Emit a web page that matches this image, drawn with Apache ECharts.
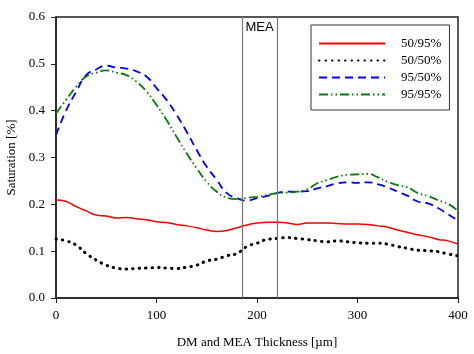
<!DOCTYPE html>
<html>
<head>
<meta charset="utf-8">
<script src="https://cdn.jsdelivr.net/npm/echarts@6/dist/echarts.min.js"></script>
<style>
  html, body { margin: 0; padding: 0; background: #fff; }
  #chart { width: 474px; height: 354px; }
</style>
</head>
<body>
<div id="chart"></div>
<script>
// thickness positions, um
var thickness = [0, 10, 20, 30, 40, 50, 60, 70, 80, 90, 100, 110, 120, 130, 140, 150, 160, 170, 180, 190,
  200, 210, 220, 230, 240, 250, 260, 270, 280, 290, 300, 310, 320, 330, 340, 350, 360, 370, 380, 390, 400];

// saturation values
var sat5095 = [0.209, 0.206, 0.195, 0.186, 0.177, 0.175, 0.171, 0.172, 0.169, 0.167, 0.163, 0.161, 0.157, 0.154, 0.150, 0.145, 0.142, 0.144, 0.150, 0.156,
  0.160, 0.162, 0.162, 0.160, 0.157, 0.160, 0.160, 0.160, 0.159, 0.158, 0.158, 0.157, 0.154, 0.151, 0.145, 0.140, 0.135, 0.131, 0.125, 0.122, 0.115];
var sat5050 = [0.126, 0.122, 0.113, 0.095, 0.081, 0.070, 0.064, 0.062, 0.063, 0.064, 0.065, 0.064, 0.063, 0.066, 0.070, 0.079, 0.083, 0.090, 0.095, 0.110,
  0.117, 0.125, 0.127, 0.129, 0.127, 0.125, 0.122, 0.120, 0.122, 0.120, 0.118, 0.117, 0.117, 0.115, 0.110, 0.106, 0.102, 0.101, 0.099, 0.094, 0.090];
var sat9550 = [0.348, 0.400, 0.440, 0.476, 0.488, 0.496, 0.492, 0.490, 0.484, 0.473, 0.448, 0.423, 0.391, 0.355, 0.316, 0.280, 0.252, 0.224, 0.213, 0.208,
  0.213, 0.218, 0.224, 0.227, 0.227, 0.228, 0.234, 0.239, 0.245, 0.247, 0.246, 0.247, 0.243, 0.236, 0.227, 0.218, 0.206, 0.202, 0.192, 0.179, 0.165];
var sat9595 = [0.394, 0.423, 0.451, 0.473, 0.481, 0.486, 0.481, 0.476, 0.462, 0.441, 0.412, 0.380, 0.344, 0.309, 0.277, 0.248, 0.227, 0.214, 0.211, 0.214,
  0.216, 0.220, 0.224, 0.225, 0.227, 0.232, 0.245, 0.252, 0.259, 0.263, 0.264, 0.265, 0.258, 0.248, 0.241, 0.236, 0.224, 0.218, 0.209, 0.201, 0.186];

var seriesNames = ['50/95%', '50/50%', '95/50%', '95/95%'];
var meaBounds = [185, 220];

function pairs(ys) {
  var out = [];
  for (var i = 0; i < thickness.length; i++) out.push([thickness[i], ys[i]]);
  return out;
}

var serif = 'Liberation Serif';
var chart = echarts.init(document.getElementById('chart'));

var option = {
  backgroundColor: '#fff',
  animation: false,
  grid: {
    left: 56, right: 16, top: 17, bottom: 56,
    outerBoundsMode: 'none', containLabel: false,
    show: true, borderColor: '#222', borderWidth: 1.5, backgroundColor: 'transparent'
  },
  legend: {
    orient: 'vertical',
    left: 311, top: 25,
    padding: [12, 8, 9, 7],
    itemWidth: 66, itemHeight: 8, itemGap: 4,
    borderColor: '#333', borderWidth: 1,
    backgroundColor: '#fff',
    itemStyle: { opacity: 0 },
    data: seriesNames,
    textStyle: { fontFamily: serif, fontSize: 13, lineHeight: 13, color: '#000', padding: [0, 0, 0, 11] }
  },
  xAxis: {
    type: 'value', min: 0, max: 400, interval: 100,
    name: 'DM and MEA Thickness [µm]', nameLocation: 'middle', nameGap: 38,
    nameTextStyle: { fontFamily: serif, fontSize: 13, color: '#000' },
    axisLine: { lineStyle: { color: '#222', width: 1.5 } },
    axisTick: { inside: false, length: 5, lineStyle: { color: '#222' } },
    axisLabel: { fontFamily: serif, fontSize: 13, color: '#000', margin: 11 },
    splitLine: { show: false }
  },
  yAxis: {
    type: 'value', min: 0, max: 0.6, interval: 0.1,
    name: 'Saturation [%]', nameLocation: 'middle', nameGap: 37,
    nameTextStyle: { fontFamily: serif, fontSize: 13, color: '#000' },
    axisLine: { show: true, lineStyle: { color: '#222', width: 1.5 } },
    axisTick: { show: true, inside: false, length: 5, lineStyle: { color: '#222' } },
    axisLabel: { fontFamily: serif, fontSize: 13, color: '#000', margin: 11,
      formatter: function (v) { return v.toFixed(1); } },
    splitLine: { show: false }
  },
  series: [
    {
      name: seriesNames[0], type: 'line', symbol: 'none', smooth: true,
      data: pairs(sat5095),
      lineStyle: { color: '#ff0000', width: 1.5 },
      itemStyle: { color: '#ff0000' },
      markLine: {
        silent: true, symbol: 'none', label: { show: false },
        lineStyle: { color: '#777', width: 1.2, type: 'solid' },
        data: [{ xAxis: meaBounds[0] }, { xAxis: meaBounds[1] }]
      },
      markArea: {
        silent: true,
        itemStyle: { color: 'rgba(0,0,0,0)' },
        label: { show: true, position: 'insideTop', distance: 4, fontFamily: 'Liberation Sans', fontSize: 13, color: '#000' },
        data: [[{ name: 'MEA', xAxis: meaBounds[0] }, { xAxis: meaBounds[1] }]]
      }
    },
    {
      name: seriesNames[1], type: 'line', symbol: 'none', smooth: true,
      data: pairs(sat5050),
      lineStyle: { color: '#000', width: 3, type: [0.5, 6], cap: 'round' },
      itemStyle: { color: '#000' }
    },
    {
      name: seriesNames[2], type: 'line', symbol: 'none', smooth: true,
      data: pairs(sat9550),
      lineStyle: { color: '#0000ee', width: 1.8, type: [8, 5] },
      itemStyle: { color: '#0000ee' }
    },
    {
      name: seriesNames[3], type: 'line', symbol: 'none', smooth: true,
      data: pairs(sat9595),
      lineStyle: { color: '#0a7a0a', width: 1.8, type: [9, 3, 1.5, 3, 1.5, 3] },
      itemStyle: { color: '#0a7a0a' }
    }
  ]
};

chart.setOption(option);
</script>
</body>
</html>
